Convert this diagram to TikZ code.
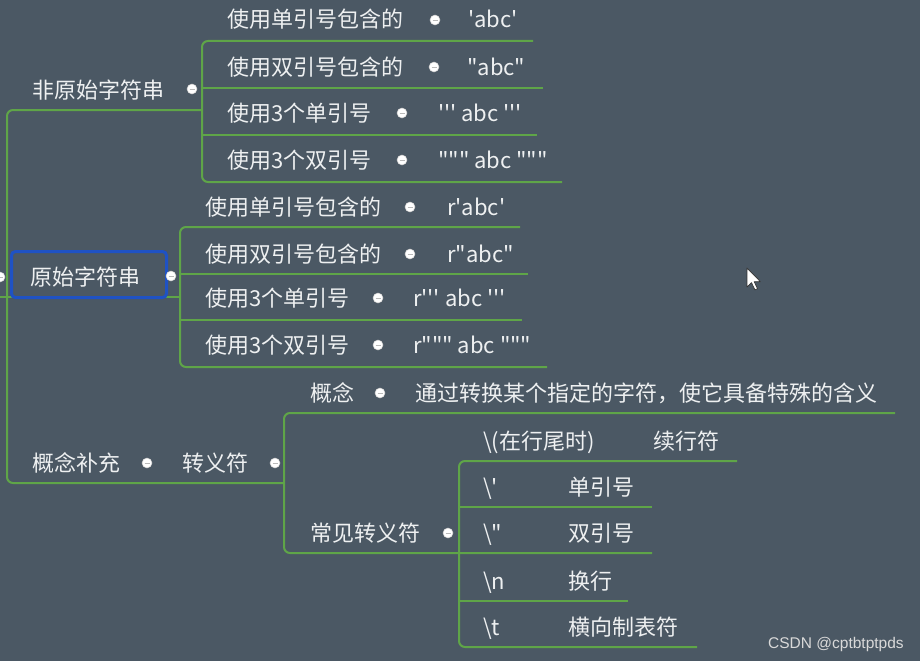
\documentclass[tikz,border=0pt]{standalone}
\usepackage{fontspec}
\newfontfamily\cjk{Noto Sans CJK SC}
\newfontfamily\markfont{Liberation Sans}
\definecolor{bg}{HTML}{4B5864}
\definecolor{branchgreen}{HTML}{5FA548}
\definecolor{selblue}{HTML}{1F52C4}
\definecolor{txt}{HTML}{EEF0F1}
\tikzset{
  topic/.style={text=txt, inner sep=0pt, anchor=base west, font=\cjk\fontsize{22}{26}\selectfont},
  branch/.style={draw=branchgreen, line width=2pt, rounded corners=6pt},
  knob/.style={circle, fill=white, draw=gray!40, line width=0.5pt, minimum size=10pt, inner sep=0pt,
    path picture={\draw[gray!55, line width=0.8pt] ([xshift=2.5pt]path picture bounding box.west) -- ([xshift=-2.5pt]path picture bounding box.east);}},
  selbox/.style={draw=selblue, line width=3pt, rounded corners=4pt, inner sep=0pt, anchor=north west},
}
\begin{document}
\begin{tikzpicture}[x=1pt, y=-1pt]
  \fill[bg] (0,0) rectangle (920,661);
  \useasboundingbox (0,0) rectangle (920,661);

  % trunks and underlines
  \draw[branch] (202,110) -- (7,110) -- (7,483) -- (284,483);
  \draw[branch] (0,297) -- (180,297);
  \draw[branch] (533,41) -- (202,41) -- (202,182) -- (562,182);
  \draw[branch] (202,88) -- (543,88);
  \draw[branch] (202,135) -- (537,135);
  \draw[branch] (520,227) -- (180,227) -- (180,367) -- (547,367);
  \draw[branch] (180,274) -- (528,274);
  \draw[branch] (180,320) -- (522,320);
  \draw[branch] (895,413) -- (284,413) -- (284,553) -- (652,553);
  \draw[branch] (737,461) -- (459,461) -- (459,647) -- (697,647);
  \draw[branch] (459,507) -- (652,507);
  \draw[branch] (459,601) -- (628,601);

  \node[knob] (rootk) at (0,277) {};

  % non raw strings
  \node[topic] (plain) at (32,98) {非原始字符串};
  \node[knob] (plaink) at (192,89) {};
  \foreach \lab/\val/\kx/\vx/\yc [count=\i] in {使用单引号包含的/{'abc'}/435/468/20,
      使用双引号包含的/{"abc"}/434/467/67, 使用3个单引号/{''' abc '''}/402/438/113,
      使用3个双引号/{""" abc """}/402/438/160} {
    \node[topic] (plain\i) at (227,\yc+8) {\lab};
    \node[knob] (plaink\i) at (\kx,\yc) {};
    \node[topic] (plainv\i) at (\vx,\yc+8) {\val};
  }

  % raw strings
  \node[selbox, minimum width=155pt, minimum height=46pt] (rawsel) at (10,250) {};
  \node[topic] (raw) at (30,285) {原始字符串};
  \node[knob] (rawk) at (171,276) {};
  \foreach \lab/\val/\kx/\vx/\yc [count=\i] in {使用单引号包含的/{r'abc'}/410/447/207,
      使用双引号包含的/{r"abc"}/410/447/254, 使用3个单引号/{r''' abc '''}/378/413/298,
      使用3个双引号/{r""" abc """}/378/413/345} {
    \node[topic] (raw\i) at (205,\yc+8) {\lab};
    \node[knob] (rawk\i) at (\kx,\yc) {};
    \node[topic] (rawv\i) at (\vx,\yc+8) {\val};
  }

  % escapes
  \node[topic] (supp) at (32,471) {概念补充};
  \node[knob] (suppk) at (147,463) {};
  \node[topic] (esc) at (182,471) {转义符};
  \node[knob] (esck) at (275,463) {};
  \node[topic] (idea) at (310,401) {概念};
  \node[knob] (ideak) at (380,393) {};
  \node[topic] (ideav) at (415,401) {通过转换某个指定的字符，使它具备特殊的含义};
  \node[topic] (common) at (310,541) {常见转义符};
  \node[knob] (commonk) at (448,533) {};
  \node[topic] (cont) at (483,449) {\textbackslash(在行尾时)};
  \node[topic] (contv) at (653,449) {续行符};
  \foreach \seq/\lab/\yc [count=\i] in {{\textbackslash'}/单引号/487, {\textbackslash"}/双引号/533,
      {\textbackslash n}/换行/581, {\textbackslash t}/横向制表符/627} {
    \node[topic] (seq\i) at (483,\yc+8) {\seq};
    \node[topic] (seqv\i) at (568,\yc+8) {\lab};
  }

  % pointer and mark
  \draw[fill=white, draw=black!80, line width=0.7pt, line join=round] (747,268) -- ++(0,19)
    -- ++(4.5,-4.3) -- ++(3.4,7.2) -- ++(2.6,-1.2) -- ++(-3.3,-7) -- ++(6.2,0) -- cycle;
  \node[anchor=base west, inner sep=0pt, text=gray!30!white, font=\markfont\fontsize{15.5}{17}\selectfont] (mark) at (768,648) {CSDN @cptbtptpds};
\end{tikzpicture}
\end{document}
